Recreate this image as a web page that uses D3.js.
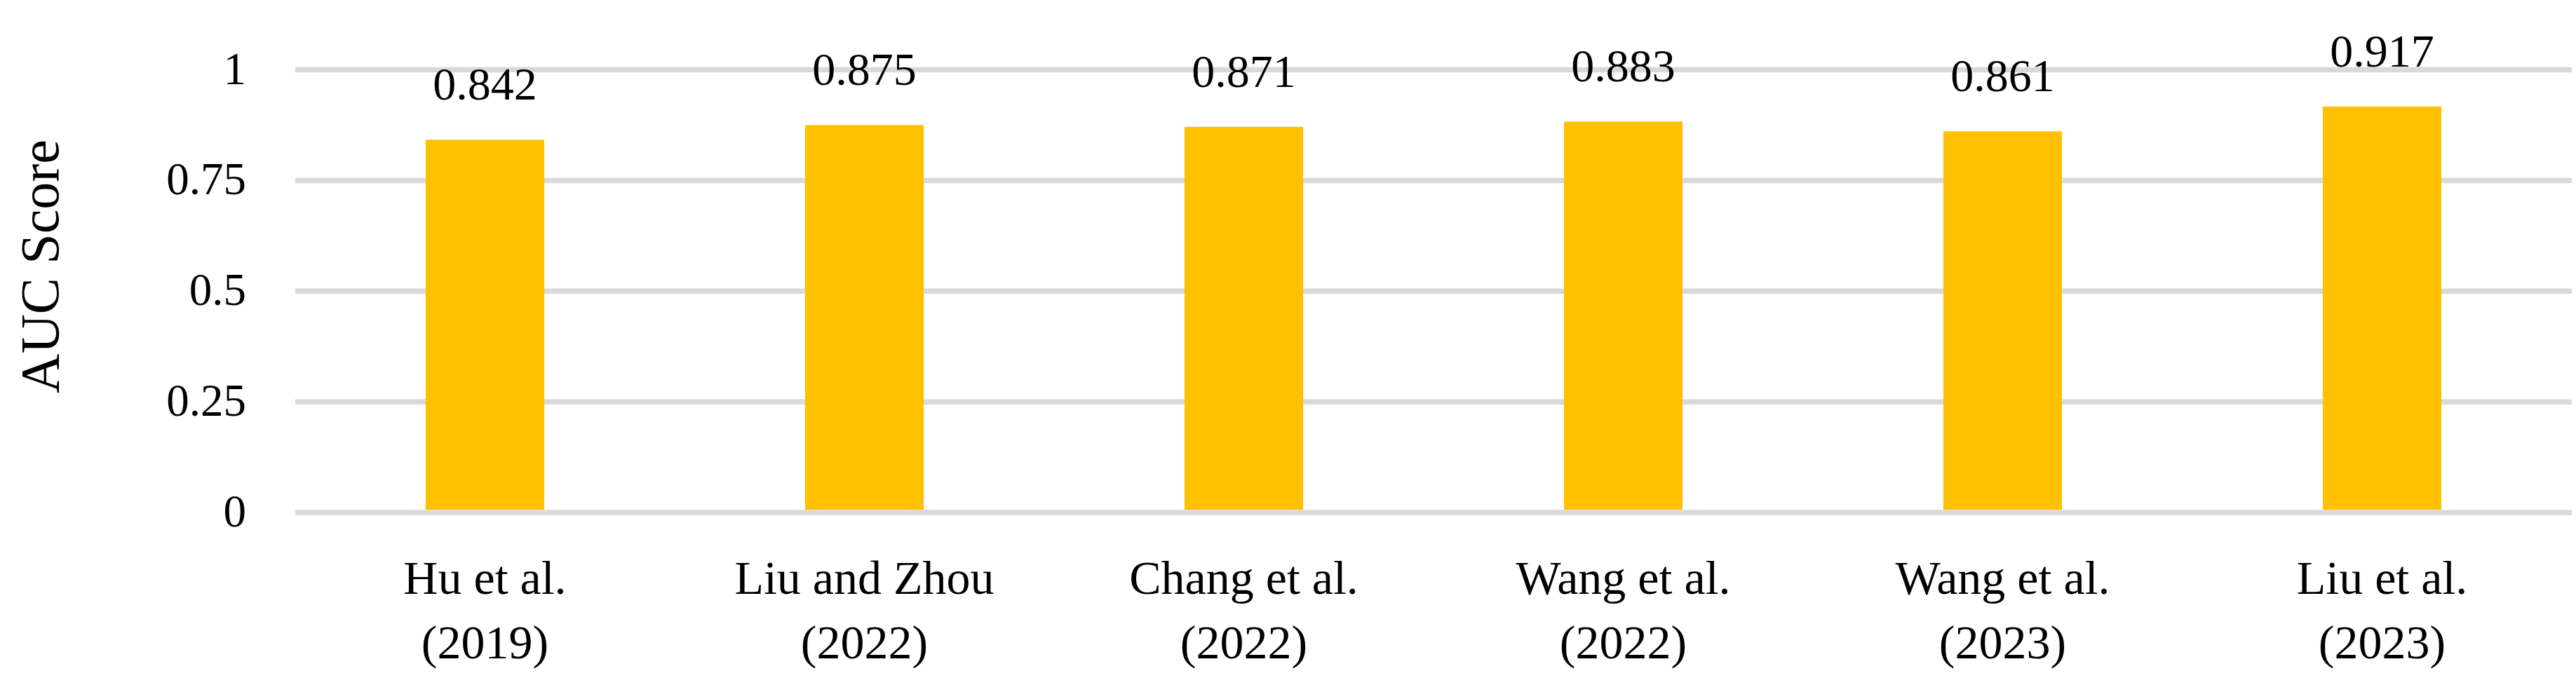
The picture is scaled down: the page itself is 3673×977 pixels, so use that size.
<!DOCTYPE html>
<html>
<head>
<meta charset="utf-8">
<script src="https://cdn.jsdelivr.net/npm/d3@7.9.0/dist/d3.min.js"></script>
<style>
  html, body { margin: 0; padding: 0; background: #fff; }
  svg { display: block; }
  text { font-family: "Liberation Serif", "Times New Roman", serif; fill: #000; }
</style>
</head>
<body>
<svg id="chart"></svg>
<script>
// ========== Data ==========
const studies = ['Hu et al.', 'Liu and Zhou', 'Chang et al.', 'Wang et al.', 'Wang et al.', 'Liu et al.'];
const years = ['(2019)', '(2022)', '(2022)', '(2022)', '(2023)', '(2023)'];
const aucScores = [0.842, 0.875, 0.871, 0.883, 0.861, 0.917];
const yTicks = [0, 0.25, 0.5, 0.75, 1];

// ========== Layout ==========
const width = 3673;
const height = 977;
const margin = { top: 99.5, right: 6, bottom: 246, left: 421 };

const svg = d3.select('#chart')
  .attr('width', width)
  .attr('height', height);

const x = d3.scaleBand()
  .domain(d3.range(studies.length))
  .range([margin.left, width - margin.right])
  .paddingInner(0.6875)
  .paddingOuter(0.34375);

const y = d3.scaleLinear()
  .domain([0, 1])
  .range([height - margin.bottom, margin.top]);

// === Gridlines ===
svg.append('g')
  .selectAll('line')
  .data(yTicks)
  .join('line')
  .attr('x1', margin.left)
  .attr('x2', width - margin.right)
  .attr('y1', (d) => y(d))
  .attr('y2', (d) => y(d))
  .attr('stroke', '#d9d9d9')
  .attr('stroke-width', 7.5);

// === Y axis ===
const yAxis = svg.append('g')
  .attr('transform', `translate(${margin.left - 70},0)`)
  .call(d3.axisLeft(y).tickValues(yTicks).tickSize(0).tickPadding(0).tickFormat((d) => String(d)));
yAxis.select('.domain').remove();
yAxis.selectAll('text')
  .attr('font-size', 65)
  .attr('font-family', '"Liberation Serif", serif')
  .attr('fill', '#000')
  .attr('dy', '0.3em');

svg.append('text')
  .attr('transform', `translate(83,380) rotate(-90)`)
  .attr('text-anchor', 'middle')
  .attr('font-size', 78)
  .text('AUC Score');

// === Bars ===
svg.append('g')
  .selectAll('rect')
  .data(aucScores)
  .join('rect')
  .attr('x', (d, i) => x(i))
  .attr('y', (d) => y(d))
  .attr('width', x.bandwidth())
  .attr('height', (d) => y(0) - y(d) - 4)
  .attr('fill', '#ffc000');

// === Value labels ===
svg.append('g')
  .selectAll('text')
  .data(aucScores)
  .join('text')
  .attr('x', (d, i) => x(i) + x.bandwidth() / 2)
  .attr('y', (d) => y(d) - 57)
  .attr('text-anchor', 'middle')
  .attr('font-size', 66)
  .text((d) => d3.format('.3f')(d));

// === Category labels ===
const cats = svg.append('g')
  .selectAll('text')
  .data(studies)
  .join('text')
  .attr('x', (d, i) => x(i) + x.bandwidth() / 2)
  .attr('y', 847)
  .attr('text-anchor', 'middle')
  .attr('font-size', 68);

cats.append('tspan')
  .text((d) => d);
cats.append('tspan')
  .attr('x', (d, i) => x(i) + x.bandwidth() / 2)
  .attr('dy', 92)
  .text((d, i) => years[i]);
</script>
</body>
</html>
